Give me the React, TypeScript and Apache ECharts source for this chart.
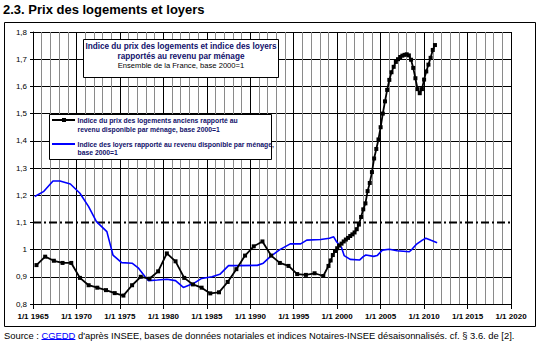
import React, { useEffect, useRef } from "react";
import * as echarts from "echarts";

const FONT = '"Liberation Sans", Arial, sans-serif';

const chartTitle = "2.3. Prix des logements et loyers";
const boxTitleLines = [
  "Indice du prix des logements et indice des loyers",
  "rapportés au revenu par ménage",
  "Ensemble de la France, base 2000=1",
];
const priceLabelLines = [
  "Indice du prix des logements anciens rapporté au",
  "revenu disponible par ménage, base 2000=1",
];
const rentLabelLines = [
  "Indice des loyers rapporté au revenu disponible par ménage,",
  "base 2000=1",
];
const sourcePrefix = "Source : ";
const sourceLink = "CGEDD";
const sourceRest =
  " d'après INSEE, bases de données notariales et indices Notaires-INSEE désaisonnalisés. cf. § 3.6. de [2].";

// x axis: years (ticks 1/1 of each 5th year)
const xMin = 1965;
const xMax = 2020;
const xStep = 5;
// y axis
const yMin = 0.8;
const yMax = 1.8;
const yStep = 0.1;
const referenceLevel = 1.1;

// Price index relative to disposable income per household (annual, then quarterly)
const priceSeries: [number, number][] = [
  [1965.4, 0.943], [1966.4, 0.974], [1967.4, 0.959], [1968.4, 0.951], [1969.4, 0.951],
  [1970.4, 0.896], [1971.4, 0.869], [1972.4, 0.86], [1973.4, 0.851], [1974.4, 0.84],
  [1975.4, 0.831], [1976.4, 0.869], [1977.4, 0.9], [1978.4, 0.893], [1979.4, 0.92],
  [1980.4, 0.986], [1981.4, 0.957], [1982.4, 0.896], [1983.4, 0.872], [1984.4, 0.86],
  [1985.4, 0.839], [1986.4, 0.843], [1987.4, 0.881], [1988.4, 0.928], [1989.4, 0.978],
  [1990.4, 1.012], [1991.4, 1.03], [1992.4, 0.978], [1993.4, 0.951], [1994.4, 0.94],
  [1995.4, 0.91], [1996.4, 0.907], [1997.4, 0.913], [1998.4, 0.903],
  [1999.0, 0.94], [1999.25, 0.96], [1999.5, 0.98], [1999.75, 0.995],
  [2000.0, 1.005], [2000.25, 1.015], [2000.5, 1.022], [2000.75, 1.03],
  [2001.0, 1.037], [2001.25, 1.043], [2001.5, 1.05], [2001.75, 1.056],
  [2002.0, 1.063], [2002.25, 1.075], [2002.5, 1.092], [2002.75, 1.12],
  [2003.0, 1.148], [2003.25, 1.17], [2003.5, 1.215], [2003.75, 1.245],
  [2004.0, 1.285], [2004.25, 1.335], [2004.5, 1.37], [2004.75, 1.405],
  [2005.0, 1.45], [2005.25, 1.5], [2005.5, 1.545], [2005.75, 1.587],
  [2006.0, 1.624], [2006.25, 1.652], [2006.5, 1.672], [2006.75, 1.69],
  [2007.0, 1.7], [2007.25, 1.708], [2007.5, 1.713], [2007.75, 1.716],
  [2008.0, 1.718], [2008.25, 1.714], [2008.5, 1.698], [2008.75, 1.668],
  [2009.0, 1.63], [2009.25, 1.59], [2009.5, 1.575], [2009.75, 1.59],
  [2010.0, 1.625], [2010.25, 1.655], [2010.5, 1.68], [2010.75, 1.705],
  [2011.0, 1.734], [2011.25, 1.752],
];

// Rent index relative to disposable income per household
const rentSeries: [number, number][] = [
  [1965.2, 1.195], [1966.2, 1.213], [1967.3, 1.252], [1968.1, 1.252], [1969.3, 1.241],
  [1970.4, 1.207], [1971.4, 1.158], [1972.3, 1.103], [1973.5, 1.066], [1974.2, 0.98],
  [1975.2, 0.952], [1976.4, 0.95], [1977.1, 0.933], [1977.9, 0.9], [1978.3, 0.886],
  [1979.3, 0.888], [1980.4, 0.891], [1981.4, 0.886], [1982.3, 0.861], [1983.5, 0.876],
  [1984.4, 0.894], [1985.6, 0.9], [1986.5, 0.909], [1987.5, 0.941], [1988.6, 0.941],
  [1990.8, 0.942], [1991.5, 0.95], [1992.3, 0.974], [1993.4, 1.0], [1994.6, 1.021],
  [1995.8, 1.021], [1996.5, 1.035], [1998.1, 1.037], [1999.1, 1.042], [1999.6, 1.047],
  [1999.9, 1.03], [2000.5, 1.008], [2000.8, 0.978], [2001.5, 0.964], [2002.6, 0.962],
  [2003.0, 0.974], [2003.3, 0.98], [2004.2, 0.975], [2004.6, 0.978], [2005.2, 0.998],
  [2006.0, 1.001], [2006.9, 0.996], [2008.3, 0.992], [2008.6, 1.001], [2009.1, 1.019],
  [2009.8, 1.035], [2010.2, 1.042], [2010.8, 1.034], [2011.5, 1.025],
];

const referenceSeries: [number, number][] = [
  [xMin, referenceLevel],
  [xMax, referenceLevel],
];

function measure(text: string, font: string): number {
  const c = document.createElement("canvas");
  const ctx = c.getContext("2d");
  if (!ctx) return text.length * 5;
  ctx.font = font;
  return ctx.measureText(text).width;
}

export default function App() {
  const ref = useRef<HTMLDivElement>(null);

  useEffect(() => {
    document.body.style.margin = "0";
    if (!ref.current) return;
    const chart = echarts.init(ref.current, undefined, { renderer: "svg" });

    const yTickCount = Math.round((yMax - yMin) / yStep) + 1;
    const refIndex = Math.round((referenceLevel - yMin) / yStep);
    const splitColors: string[] = [];
    for (let i = 0; i < yTickCount; i++) splitColors.push(i === refIndex ? "rgba(0,0,0,0)" : "#000");

    const srcSize = 9.4;
    const srcFont = `${srcSize}px "Liberation Sans"`;
    const srcX = 4;
    const srcY = 335;
    const w1 = measure(sourcePrefix, srcFont);
    const w2 = measure(sourceLink, srcFont);

    const boxText = (text: string, x: number, y: number, size: number, bold: boolean, fill: string, align = "left") => ({
      type: "text",
      silent: true,
      z: 11,
      style: {
        text,
        x,
        y,
        align,
        verticalAlign: "middle",
        fontSize: size,
        fontWeight: bold ? "bold" : "normal",
        fontFamily: FONT,
        fill,
      },
    });

    const option: any = {
      animation: false,
      backgroundColor: "#fff",
      textStyle: { fontFamily: FONT },
      grid: { left: 33, right: 28, top: 32, bottom: 40, containLabel: false },
      xAxis: {
        type: "value",
        min: xMin,
        max: xMax,
        interval: xStep,
        axisLine: { show: true, onZero: false, lineStyle: { color: "#000", width: 1 } },
        axisTick: { show: true, length: 5, lineStyle: { color: "#000" } },
        axisLabel: {
          formatter: (v: number) => "1/1 " + v,
          fontSize: 8,
          fontWeight: "bold",
          color: "#000",
          margin: 8,
          fontFamily: FONT,
        },
        splitLine: { show: true, lineStyle: { color: "#000", width: 1 } },
        minorTick: { show: false, splitNumber: 5 },
        minorSplitLine: { show: true, lineStyle: { color: "#8a8a8a", width: 1 } },
      },
      yAxis: {
        type: "value",
        min: yMin,
        max: yMax,
        interval: yStep,
        axisLine: { show: true, lineStyle: { color: "#000", width: 1 } },
        axisTick: { show: true, length: 3, lineStyle: { color: "#000" } },
        axisLabel: {
          formatter: (v: number) => String(Math.round(v * 10) / 10).replace(".", ","),
          fontSize: 8,
          color: "#000",
          margin: 6,
          fontFamily: FONT,
        },
        splitLine: { show: true, lineStyle: { color: splitColors, width: 1 } },
      },
      series: [
        {
          name: "Référence 1,1",
          type: "line",
          data: referenceSeries,
          symbol: "none",
          silent: true,
          lineStyle: { color: "#000", width: 2, type: [8, 3, 2, 3] },
          z: 2,
        },
        {
          name: rentLabelLines.join(" "),
          type: "line",
          data: rentSeries,
          symbol: "none",
          lineStyle: { color: "#0000ff", width: 1.6 },
          itemStyle: { color: "#0000ff" },
          z: 3,
        },
        {
          name: priceLabelLines.join(" "),
          type: "line",
          data: priceSeries,
          symbol: "rect",
          symbolSize: 4,
          showSymbol: true,
          lineStyle: { color: "#000", width: 1.8 },
          itemStyle: { color: "#000" },
          z: 4,
        },
      ],
      graphic: [
        // outer frame
        {
          type: "rect",
          silent: true,
          z: 0,
          shape: { x: 4.5, y: 22.5, width: 531, height: 304 },
          style: { fill: "none", stroke: "#000", lineWidth: 1 },
        },
        boxText(chartTitle, 3, 9, 13, true, "#000"),
        // title box
        {
          type: "rect",
          silent: true,
          z: 10,
          shape: { x: 83.5, y: 39.5, width: 195, height: 38 },
          style: { fill: "#fff", stroke: "#000", lineWidth: 1 },
        },
        boxText(boxTitleLines[0], 181, 46.5, 8.2, true, "#10106a", "center"),
        boxText(boxTitleLines[1], 181, 56.5, 8.2, true, "#10106a", "center"),
        boxText(boxTitleLines[2], 181, 65.5, 7.6, false, "#000", "center"),
        // legend box
        {
          type: "rect",
          silent: true,
          z: 10,
          shape: { x: 49.5, y: 114.5, width: 222, height: 45 },
          style: { fill: "#fff", stroke: "#000", lineWidth: 1 },
        },
        {
          type: "line",
          silent: true,
          z: 11,
          shape: { x1: 52, y1: 120, x2: 75, y2: 120 },
          style: { stroke: "#000", lineWidth: 2 },
        },
        {
          type: "rect",
          silent: true,
          z: 12,
          shape: { x: 62, y: 118, width: 4, height: 4 },
          style: { fill: "#000" },
        },
        {
          type: "line",
          silent: true,
          z: 11,
          shape: { x1: 52, y1: 144, x2: 75, y2: 144 },
          style: { stroke: "#0000ff", lineWidth: 2 },
        },
        boxText(priceLabelLines[0], 77.5, 120, 6.8, true, "#10106a"),
        boxText(priceLabelLines[1], 77.5, 129, 6.8, true, "#10106a"),
        boxText(rentLabelLines[0], 77.5, 144, 6.8, true, "#10106a"),
        boxText(rentLabelLines[1], 77.5, 152.5, 6.8, true, "#10106a"),
        // source line
        {
          type: "text",
          silent: true,
          style: { text: sourcePrefix, x: srcX, y: srcY, verticalAlign: "middle", fontSize: srcSize, fontFamily: FONT, fill: "#000" },
        },
        {
          type: "text",
          silent: true,
          style: { text: sourceLink, x: srcX + w1, y: srcY, verticalAlign: "middle", fontSize: srcSize, fontFamily: FONT, fill: "#0000ff" },
        },
        {
          type: "line",
          silent: true,
          shape: { x1: srcX + w1, y1: srcY + 4.5, x2: srcX + w1 + w2, y2: srcY + 4.5 },
          style: { stroke: "#0000ff", lineWidth: 1 },
        },
        {
          type: "text",
          silent: true,
          style: { text: sourceRest, x: srcX + w1 + w2, y: srcY, verticalAlign: "middle", fontSize: srcSize, fontFamily: FONT, fill: "#000" },
        },
      ],
    };

    chart.setOption(option);
    return () => chart.dispose();
  }, []);

  return <div ref={ref} style={{ width: 539, height: 344 }} />;
}
